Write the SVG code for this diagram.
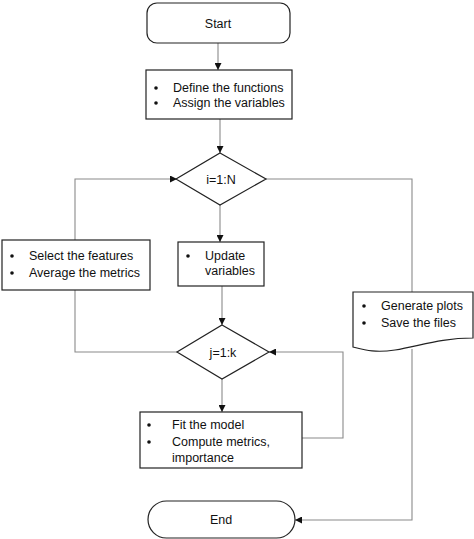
<svg xmlns="http://www.w3.org/2000/svg" width="474" height="539" viewBox="0 0 474 539">
<style>
.box{fill:#fff;stroke:#222;stroke-width:1.2}
.ln{fill:none;stroke:#8a8a8a;stroke-width:1.1}
text{font-family:"Liberation Sans",Arial,sans-serif;font-size:12.5px;fill:#111}
.c{text-anchor:middle}
</style>
<defs>
<marker id="ah" viewBox="0 0 10 10" refX="10" refY="5" markerWidth="7" markerHeight="7" orient="auto" markerUnits="userSpaceOnUse">
<path d="M0,0 L10,5 L0,10 z" fill="#111"/>
</marker>
</defs>
<rect width="474" height="539" fill="#fff"/>
<g id="connectors">
<line class="ln" x1="218" y1="43" x2="218" y2="70" marker-end="url(#ah)"/>
<line class="ln" x1="220" y1="119" x2="220" y2="153" marker-end="url(#ah)"/>
<line class="ln" x1="220" y1="205" x2="220" y2="242" marker-end="url(#ah)"/>
<polyline class="ln" points="75,240 75,179 177,179" marker-end="url(#ah)"/>
<polyline class="ln" points="266,179 412,179 412,292"/>
<polyline class="ln" points="412,349 412,520 295,520" marker-end="url(#ah)"/>
<line class="ln" x1="222" y1="286" x2="222" y2="325" marker-end="url(#ah)"/>
<polyline class="ln" points="75,290 75,352 177,352"/>
<line class="ln" x1="222" y1="379" x2="222" y2="412" marker-end="url(#ah)"/>
<polyline class="ln" points="302,438 343,438 343,352 269,352" marker-end="url(#ah)"/>
</g>
<g id="start">
<rect class="box" x="147" y="3" width="143" height="40" rx="10"/>
<text class="c" x="218" y="28">Start</text>
</g>
<g id="define">
<rect class="box" x="146" y="70" width="146" height="49"/>
<circle cx="156" cy="88" r="1.8" fill="#111"/>
<circle cx="156" cy="103" r="1.8" fill="#111"/>
<text x="173" y="92">Define the functions</text>
<text x="173" y="107">Assign the variables</text>
</g>
<g id="loop-i">
<polygon class="box" points="220,153 266,179 220,205 176,179"/>
<text class="c" x="221" y="184">i=1:N</text>
</g>
<g id="select">
<rect class="box" x="2" y="240" width="148" height="50"/>
<circle cx="12" cy="256" r="1.8" fill="#111"/>
<circle cx="12" cy="273" r="1.8" fill="#111"/>
<text x="29" y="260">Select the features</text>
<text x="29" y="277">Average the metrics</text>
</g>
<g id="update">
<rect class="box" x="178" y="242" width="86" height="44"/>
<circle cx="188" cy="256" r="1.8" fill="#111"/>
<text x="205" y="260">Update</text>
<text x="205" y="275">variables</text>
</g>
<g id="output">
<path class="box" d="M353,292 L473,292 L473,338 C440,338 420,346 395,350 C375,353 365,350 353,347 Z"/>
<circle cx="364" cy="306" r="1.8" fill="#111"/>
<circle cx="364" cy="323" r="1.8" fill="#111"/>
<text x="381" y="310">Generate plots</text>
<text x="381" y="327">Save the files</text>
</g>
<g id="loop-j">
<polygon class="box" points="222,325 269,352 222,379 177,352"/>
<text class="c" x="223" y="357">j=1:k</text>
</g>
<g id="fit">
<rect class="box" x="140" y="412" width="162" height="56"/>
<circle cx="149" cy="425" r="1.8" fill="#111"/>
<circle cx="149" cy="442" r="1.8" fill="#111"/>
<text x="172" y="429">Fit the model</text>
<text x="172" y="446">Compute metrics,</text>
<text x="172" y="462">importance</text>
</g>
<g id="end">
<rect class="box" x="148" y="501" width="147" height="37" rx="18.5"/>
<text class="c" x="221" y="524">End</text>
</g>
</svg>
